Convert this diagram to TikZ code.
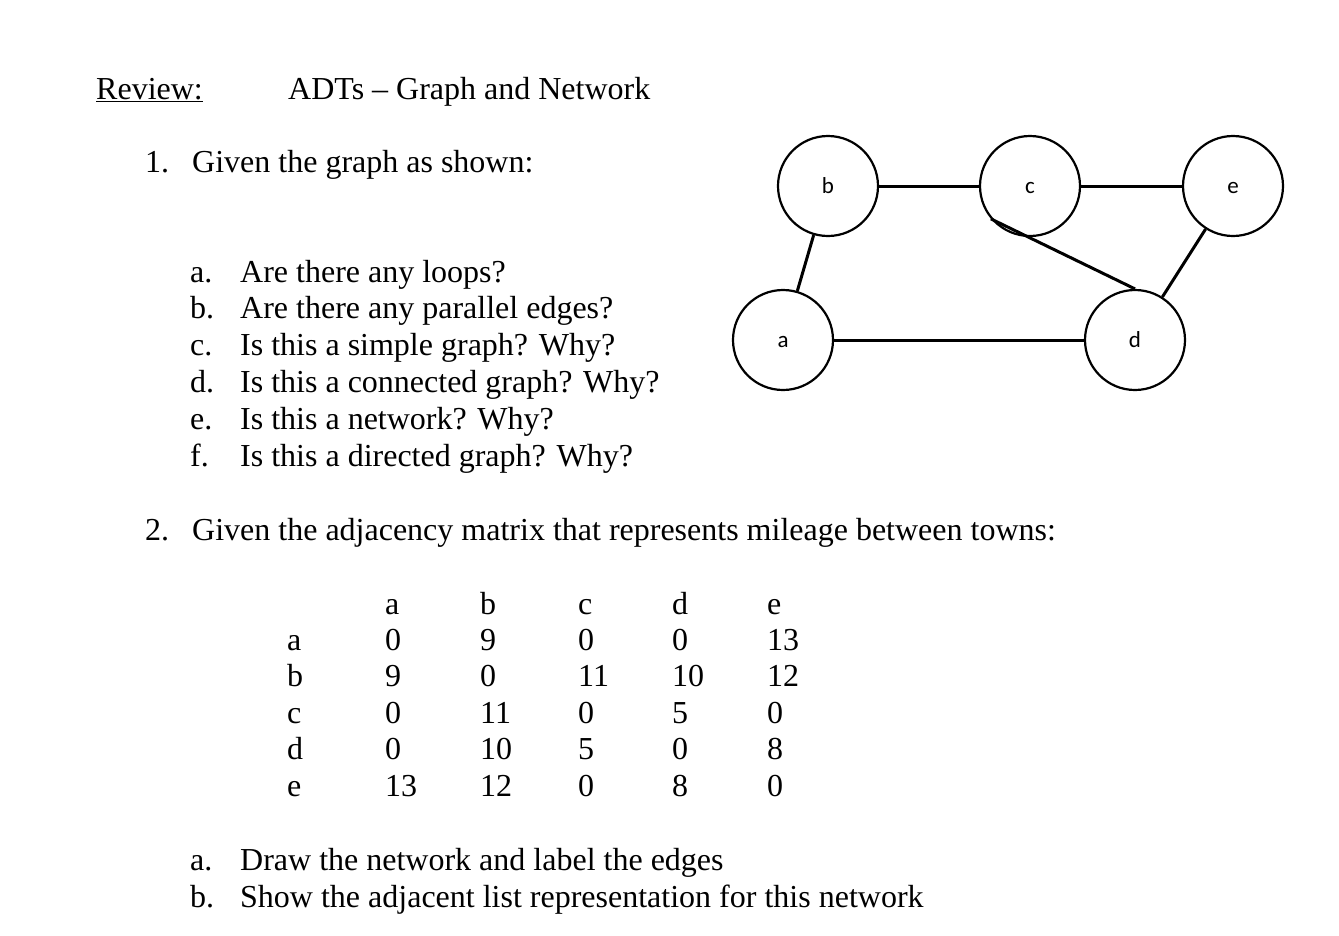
\documentclass[tikz,border=0pt]{standalone}
\usepackage{fontspec}
\setmainfont{Liberation Serif}
\newfontfamily\lblfont{Carlito}
\begin{document}
\begin{tikzpicture}[x=1pt,y=-1pt,
  txt/.style={anchor=base west,inner sep=0pt,font=\fontsize{32}{36}\selectfont},
  vtx/.style={circle,draw,line width=2.2pt,minimum size=100pt,inner sep=0pt,text height=14pt,text depth=0pt,font=\lblfont\fontsize{23}{26}\selectfont},
  edge/.style={line width=3pt}]
\useasboundingbox (0,0) rectangle (1339,935);
% heading
\node[txt] (rev) at (96,99) {\underline{Review:}};
\node[txt] (title) at (288,99) {ADTs -- Graph and Network};
% question 1
\node[txt] (q1n) at (145,172) {1.};
\node[txt] (q1) at (192,172) {Given the graph as shown:};
\foreach \l/\t [count=\i from 0] in {a./Are there any loops?,b./Are there any parallel edges?,c./Is this a simple graph? Why?,d./Is this a connected graph? Why?,e./Is this a network? Why?,f./Is this a directed graph? Why?}{
  \node[txt] (l\i) at (190,{282+36.8*\i}) {\l};
  \node[txt] (t\i) at (240,{282+36.8*\i}) {\t};
}
% graph
\node[vtx] (b) at (828,186) {b};
\node[vtx] (c) at (1030,186) {c};
\node[vtx] (e) at (1233,186) {e};
\node[vtx] (a) at (783,340) {a};
\node[vtx] (d) at (1135,340) {d};
\draw[edge] (b) -- (c);
\draw[edge] (c) -- (e);
\draw[edge] (c.-140) -- (d.north);
\draw[edge] (e) -- (d);
\draw[edge] (b) -- (a);
\draw[edge] (a) -- (d);
% question 2
\node[txt] (q2n) at (145,540) {2.};
\node[txt] (q2) at (192,540) {Given the adjacency matrix that represents mileage between towns:};
\foreach \h/\x in {a/385,b/480,c/578,d/672,e/767}
  \node[txt] (h\h) at (\x,614) {\h};
\foreach \r/\va/\vb/\vc/\vd/\ve [count=\i from 0] in {a/0/9/0/0/13,b/9/0/11/10/12,c/0/11/0/5/0,d/0/10/5/0/8,e/13/12/0/8/0}{
  \node[txt] (r\r) at (287,{650+36.6*\i}) {\r};
  \node[txt] (m\r a) at (385,{650+36.6*\i}) {\va};
  \node[txt] (m\r b) at (480,{650+36.6*\i}) {\vb};
  \node[txt] (m\r c) at (578,{650+36.6*\i}) {\vc};
  \node[txt] (m\r d) at (672,{650+36.6*\i}) {\vd};
  \node[txt] (m\r e) at (767,{650+36.6*\i}) {\ve};
}
\node[txt] (s0) at (190,870) {a.};
\node[txt] (u0) at (240,870) {Draw the network and label the edges};
\node[txt] (s1) at (190,907) {b.};
\node[txt] (u1) at (240,907) {Show the adjacent list representation for this network};
\end{tikzpicture}
\end{document}
